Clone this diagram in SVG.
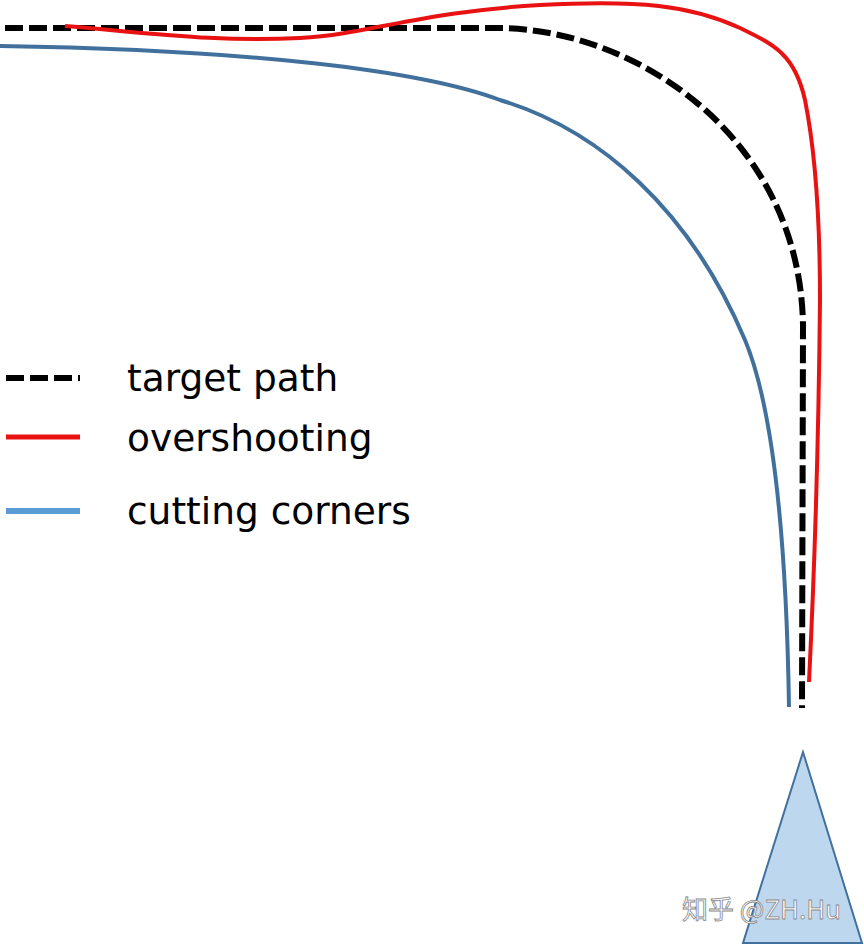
<svg xmlns="http://www.w3.org/2000/svg" width="864" height="945" viewBox="0 0 864 945">
<style>
.target{fill:none;stroke:#000;stroke-width:6;stroke-dasharray:18 6}
.over{fill:none;stroke:#e81212;stroke-width:4;stroke-linecap:butt}
.cut{fill:none;stroke:#42709c;stroke-width:4}
.lbl{font-family:"DejaVu Sans",sans-serif;font-size:37.5px;fill:#000}
.wm{font-family:"Noto Sans CJK SC","DejaVu Sans",sans-serif;font-size:26px;fill:#fff;stroke:#888;stroke-width:0.8}
</style>
<rect width="864" height="945" fill="#fff"/>
<g id="paths">
<path class="cut" d="M0,46 C250,50 420,70 500,100 C600,130 690,210 745,340 C770,400 786,520 789,707"/>
<path class="target" d="M5,28 L500,28 C640,30 800,140 803,325 L802,708"/>
<path class="over" d="M65,26 C160,34 220,42 300,38 C370,34 420,12 540,5 C640,0 690,5 740,28 C775,45 795,55 805,100 C815,150 820,220 820,300 Q818,500 809,682"/>
</g>
<g id="vehicle">
<polygon points="803,752 743,943 862,943" fill="#bdd7ee" stroke="#41719c" stroke-width="2"/>
</g>
<g id="legend">
<line x1="6" y1="378" x2="80" y2="378" class="target"/>
<line x1="6" y1="437" x2="80" y2="437" stroke="#e81212" stroke-width="5"/>
<line x1="6" y1="511" x2="80" y2="511" stroke="#5b9bd5" stroke-width="6"/>
<text x="127" y="391" class="lbl">target path</text>
<text x="127" y="451" class="lbl">overshooting</text>
<text x="127" y="524" class="lbl">cutting corners</text>
</g>
<text x="682" y="919" class="wm">知乎 @ZH.Hu</text>
</svg>
